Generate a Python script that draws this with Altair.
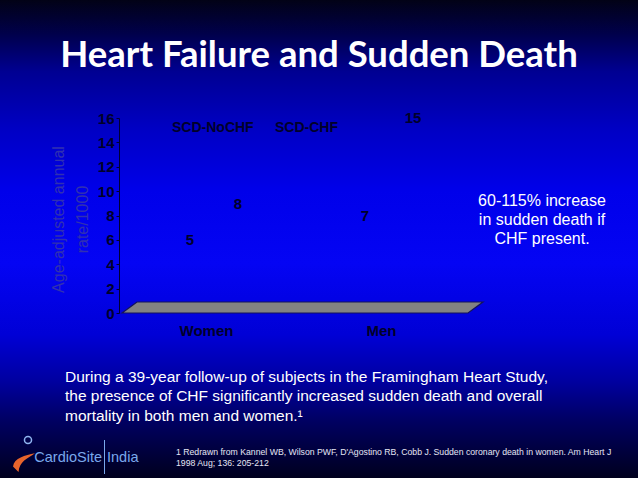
import altair as alt
import pandas as pd

# ---------------- data ----------------
groups = ["Women", "Women", "Men", "Men"]
series = ["SCD-NoCHF", "SCD-CHF", "SCD-NoCHF", "SCD-CHF"]
rates = [5, 8, 7, 15]
group_order = ["Women", "Men"]
series_order = ["SCD-NoCHF", "SCD-CHF"]
y_ticks = [0, 2, 4, 6, 8, 10, 12, 14, 16]

title_text = "Heart Failure and Sudden Death"
y_title = ["Age-adjusted annual", "rate/1000"]
side_note = ["60-115% increase", "in sudden death if", "CHF present."]
body_lines = [
    "During a 39-year follow-up of subjects in the Framingham Heart Study,",
    "the presence of CHF significantly increased sudden death and overall",
    "mortality in both men and women.\u00b9",
]
footnote_lines = [
    "1 Redrawn from Kannel WB, Wilson PWF, D'Agostino RB, Cobb J.  Sudden coronary death in women. Am Heart J",
    "1998 Aug; 136: 205-212",
]
logo_left = "CardioSite"
logo_right = "India"

df = pd.DataFrame({"Group": groups, "Series": series, "Rate": rates})
one = pd.DataFrame({"k": [0]})

# ---------------- layout ----------------
W, H = 350, 195
L, T = 119, 118
R = 638 - L - W
B = 478 - T - H

DARK = "#00002a"
FONT = "Liberation Sans"

bg = alt.Chart(one).mark_rect(
    fill=alt.Gradient(
        gradient="linear",
        stops=[
            alt.GradientStop(color="#020216", offset=0.0),
            alt.GradientStop(color="#00004a", offset=0.07),
            alt.GradientStop(color="#000092", offset=0.15),
            alt.GradientStop(color="#0000c4", offset=0.27),
            alt.GradientStop(color="#0000ea", offset=0.40),
            alt.GradientStop(color="#0404f4", offset=0.55),
            alt.GradientStop(color="#0000d6", offset=0.70),
            alt.GradientStop(color="#00009e", offset=0.80),
            alt.GradientStop(color="#000062", offset=0.88),
            alt.GradientStop(color="#00003a", offset=0.95),
            alt.GradientStop(color="#00001e", offset=1.0),
        ],
        x1=0, x2=0, y1=0, y2=1,
    )
).encode(x=alt.value(-L), x2=alt.value(W + R), y=alt.value(-T), y2=alt.value(H + B))

floor = alt.Chart(one).mark_point(
    shape="M -1 0.0305 L -0.917 -0.0305 L 1 -0.0305 L 0.917 0.0305 Z",
    filled=True, fill="#828282", stroke="#14145a", strokeWidth=1.2,
    opacity=1, size=130321,
).encode(x=alt.value(302.5 - L), y=alt.value(307.5 - T))

x_axis = alt.Axis(title=None, labelAngle=0, labelFont=FONT, labelFontSize=15,
                  labelFontWeight="bold", labelColor=DARK, ticks=False,
                  domain=False, labelPadding=10, labelBaseline="top", zindex=1)
y_axis = alt.Axis(values=y_ticks, title=y_title, titleFont=FONT, titleFontSize=16,
                  titleFontWeight="normal", titleColor="#3030b2", titleLineHeight=24,
                  titleX=-61, titleY=101, titleAngle=270, titleAlign="center",
                  titleBaseline="middle", labelFont=FONT, labelFontWeight="bold",
                  labelFontSize=15, labelColor=DARK, labelPadding=2, tickSize=3,
                  tickColor="#000030", domainColor="#000030", domainWidth=1,
                  grid=False, labelOverlap=False, labelFlush=False,
                  labelBound=False, zindex=1)


def enc_x():
    return alt.X("Group:N", sort=group_order,
                 scale=alt.Scale(paddingInner=0, paddingOuter=0), axis=x_axis)


def enc_xo():
    return alt.XOffset("Series:N", sort=series_order,
                       scale=alt.Scale(paddingInner=0, paddingOuter=0.82))


def enc_y():
    return alt.Y("Rate:Q", scale=alt.Scale(domain=[0, 16], nice=False), axis=y_axis)


bars = alt.Chart(df).mark_bar(opacity=0).encode(
    x=enc_x(), xOffset=enc_xo(), y=enc_y(),
    color=alt.Color(
        "Series:N", sort=series_order,
        scale=alt.Scale(range=["#0a0ae6", "#0a0ae6"]),
        legend=alt.Legend(title=None, orient="none", legendX=39, legendY=3,
                          direction="horizontal", symbolSize=0, symbolOpacity=0,
                          symbolStrokeWidth=0, labelOffset=0, columnPadding=7,
                          labelFont=FONT, labelFontSize=14, labelFontWeight="bold",
                          labelColor=DARK, padding=0, zindex=1),
    ),
)

labels = alt.Chart(df).mark_text(
    font=FONT, fontWeight="bold", fontSize=15, color=DARK,
    dx=7.5, dy=-12, baseline="middle",
).encode(
    x=enc_x(), xOffset=enc_xo(), y=enc_y(),
    text=alt.Text("Rate:Q"),
)

title = alt.Chart(one).mark_text(
    text=title_text, font="Lato", fontWeight="bold", fontSize=36.5, color="white",
    align="center", baseline="alphabetic",
).encode(x=alt.value(319 - L), y=alt.value(67 - T))

note = alt.Chart(one).mark_text(
    text=side_note, font=FONT, fontSize=16, color="white", align="center",
    baseline="middle", lineHeight=19,
).encode(x=alt.value(542 - L), y=alt.value(201 - T))

body = alt.Chart(one).mark_text(
    text=body_lines, font=FONT, fontSize=15.5, color="white", align="left",
    baseline="middle", lineHeight=19.3,
).encode(x=alt.value(65 - L), y=alt.value(377 - T))

foot = alt.Chart(one).mark_text(
    text=footnote_lines, font=FONT, fontSize=8.7, color="#e6e6f4", align="left",
    baseline="middle", lineHeight=11.2,
).encode(x=alt.value(176 - L), y=alt.value(452 - T))

logo_swoosh = alt.Chart(one).mark_point(
    shape="M -1 0.5 C -0.9 -0.3 0.1 -0.5 1 -0.7 C 0.3 -0.2 -0.4 0 -0.5 1 Z",
    filled=True, fill="#e8642c", opacity=1, size=484,
).encode(x=alt.value(24 - L), y=alt.value(461 - T))
logo_head = alt.Chart(one).mark_point(
    shape="circle", filled=False, stroke="#8fb4f0", strokeWidth=1.5, opacity=1, size=50,
).encode(x=alt.value(28 - L), y=alt.value(440 - T))
logo_text1 = alt.Chart(one).mark_text(
    text=logo_left, font=FONT, fontSize=14.5, color="#7aa8ec",
    align="right", baseline="alphabetic",
).encode(x=alt.value(102 - L), y=alt.value(462 - T))
logo_text2 = alt.Chart(one).mark_text(
    text=logo_right, font=FONT, fontSize=14.5, color="#7aa8ec",
    align="left", baseline="alphabetic",
).encode(x=alt.value(107 - L), y=alt.value(462 - T))
logo_sep = alt.Chart(one).mark_rule(color="#7aa8ec", strokeWidth=1).encode(
    x=alt.value(104.5 - L), y=alt.value(440 - T), y2=alt.value(474 - T)
)

chart = alt.layer(
    bg, floor, bars, labels, title, note, body, foot,
    logo_swoosh, logo_head, logo_text1, logo_text2, logo_sep,
).properties(
    width=W, height=H,
    padding={"left": L, "top": T, "right": R, "bottom": B},
    autosize=alt.AutoSizeParams(type="none"),
    background="#00001e",
).configure_view(stroke=None)

chart.save("out.html", embed_options={"renderer": "svg", "actions": False})
